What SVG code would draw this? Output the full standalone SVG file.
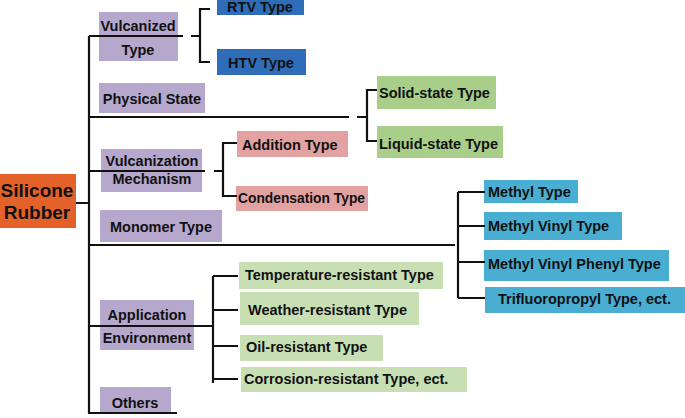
<svg xmlns="http://www.w3.org/2000/svg" width="685" height="418" viewBox="0 0 685 418">
<style>
text{font-family:"Liberation Sans",Arial,sans-serif;font-weight:bold;font-size:14.5px;fill:#111}
text.big{font-size:19px}
.p{fill:#B5A8CC}.b{fill:#2F6DB8}.g{fill:#A8CE8A}.lg{fill:#C8DFB4}.r{fill:#E3A2A2}.c{fill:#4AADD2}.o{fill:#E4622A}
.ln{stroke:#111;stroke-width:2.2;fill:none}
</style>
<rect width="685" height="418" fill="#fff"/>
<g id="root"><rect class="o" x="0" y="174" width="76" height="54"/><text class="big" x="37" y="197" text-anchor="middle">Silicone</text><text class="big" x="37" y="219" text-anchor="middle">Rubber</text></g>
<g id="vulcanized"><rect class="p" x="99" y="12" width="79" height="49"/><text x="138" y="31" text-anchor="middle">Vulcanized</text><text x="138" y="55" text-anchor="middle">Type</text></g>
<g id="rtv"><rect class="b" x="217" y="0" width="87" height="15"/><text x="260" y="12" text-anchor="middle">RTV Type</text></g>
<g id="htv"><rect class="b" x="217" y="49" width="89" height="26"/><text x="261" y="68" text-anchor="middle">HTV Type</text></g>
<g id="physical"><rect class="p" x="99" y="83" width="106" height="30"/><text x="152" y="104" text-anchor="middle">Physical State</text></g>
<g id="solid"><rect class="g" x="377" y="76" width="119" height="33"/><text x="379" y="98">Solid-state Type</text></g>
<g id="liquid"><rect class="g" x="377" y="126" width="126" height="32"/><text x="379" y="149">Liquid-state Type</text></g>
<g id="mechanism"><rect class="p" x="101" y="149" width="101" height="43"/><text x="152" y="166" text-anchor="middle">Vulcanization</text><text x="152" y="184" text-anchor="middle">Mechanism</text></g>
<g id="addition"><rect class="r" x="237" y="131" width="111" height="26"/><text x="242" y="150">Addition Type</text></g>
<g id="condensation"><rect class="r" x="236" y="186" width="132" height="25"/><text x="238" y="203" textLength="127" lengthAdjust="spacingAndGlyphs">Condensation Type</text></g>
<g id="monomer"><rect class="p" x="100" y="210" width="122" height="32"/><text x="161" y="232" text-anchor="middle">Monomer Type</text></g>
<g id="methyl"><rect class="c" x="484" y="180" width="94" height="23"/><text x="488" y="197">Methyl Type</text></g>
<g id="methylvinyl"><rect class="c" x="484" y="212" width="138" height="28"/><text x="488" y="231">Methyl Vinyl Type</text></g>
<g id="mvp"><rect class="c" x="484" y="250" width="185" height="31"/><text x="488" y="269">Methyl Vinyl Phenyl Type</text></g>
<g id="trifluoro"><rect class="c" x="485" y="287" width="200" height="26"/><text x="498" y="304">Trifluoropropyl Type, ect.</text></g>
<g id="application"><rect class="p" x="100" y="300" width="94" height="50"/><text x="147" y="320" text-anchor="middle">Application</text><text x="147" y="343" text-anchor="middle">Environment</text></g>
<g id="temperature"><rect class="lg" x="239" y="262" width="204" height="27"/><text x="245" y="280">Temperature-resistant Type</text></g>
<g id="weather"><rect class="lg" x="240" y="292" width="179" height="33"/><text x="248" y="315">Weather-resistant Type</text></g>
<g id="oil"><rect class="lg" x="240" y="335" width="143" height="26"/><text x="246" y="352">Oil-resistant Type</text></g>
<g id="corrosion"><rect class="lg" x="241" y="367" width="226" height="25"/><text x="244" y="384">Corrosion-resistant Type, ect.</text></g>
<g id="others"><rect class="p" x="100" y="387" width="71" height="26"/><text x="135" y="408" text-anchor="middle">Others</text></g>
<g id="connectors" class="ln">
<path d="M76 203H90M89 36V414M89 36H183M89 117H349M89 171H205M89 245H455M89 326H207M89 413H177"/>
<path d="M191 36H200M210 9H200V62H210"/>
<path d="M357 117H367M377 90H367V141H377"/>
<path d="M214 171H223M237 143H223V196H237"/>
<path d="M458 192V298M458 192H485M458 226H485M458 262H485M458 298H485"/>
<path d="M207 326H213M213 276V383M213 276H238M213 310H238M213 346H238M213 379H238"/>
</g>
</svg>
